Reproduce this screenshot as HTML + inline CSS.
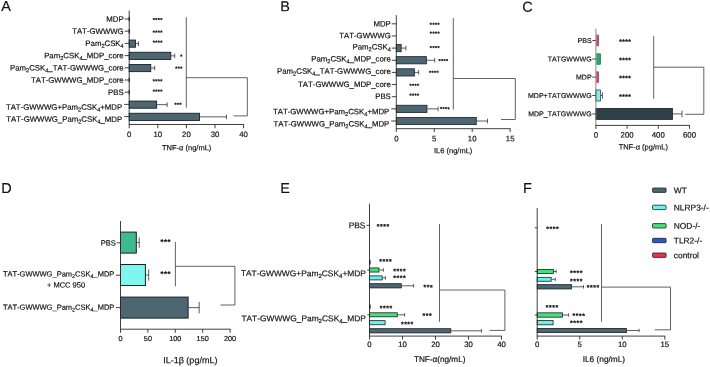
<!DOCTYPE html>
<html><head><meta charset="utf-8"><title>Figure</title>
<style>
html,body{margin:0;padding:0;background:#fff;}
body{width:710px;height:367px;overflow:hidden;}
svg{display:block;font-kerning:none;font-family:"Liberation Sans",sans-serif;}
</style></head><body>
<svg width="710" height="367" viewBox="0 0 710 367">
<rect x="0" y="0" width="710" height="367" fill="#ffffff"/>
<text x="1.20" y="11.00" font-size="14.4" text-anchor="start" font-weight="normal" fill="#111"  transform="rotate(0.03 1.20 11.00)" stroke="#111" stroke-width="0.18">A</text>
<text x="280.30" y="11.30" font-size="14.4" text-anchor="start" font-weight="normal" fill="#111"  transform="rotate(0.03 280.30 11.30)" stroke="#111" stroke-width="0.18">B</text>
<text x="522.30" y="11.70" font-size="14.4" text-anchor="start" font-weight="normal" fill="#111"  transform="rotate(0.03 522.30 11.70)" stroke="#111" stroke-width="0.18">C</text>
<text x="1.30" y="192.90" font-size="14.4" text-anchor="start" font-weight="normal" fill="#111"  transform="rotate(0.03 1.30 192.90)" stroke="#111" stroke-width="0.18">D</text>
<text x="280.30" y="192.90" font-size="14.4" text-anchor="start" font-weight="normal" fill="#111"  transform="rotate(0.03 280.30 192.90)" stroke="#111" stroke-width="0.18">E</text>
<text x="523.00" y="192.90" font-size="14.4" text-anchor="start" font-weight="normal" fill="#111"  transform="rotate(0.03 523.00 192.90)" stroke="#111" stroke-width="0.18">F</text>
<text x="123.70" y="21.70" font-size="7.8" text-anchor="end" font-weight="normal" fill="#111111"  transform="rotate(0.03 123.70 21.70)" stroke="#111111" stroke-width="0.18">MDP</text>
<line x1="124.70" y1="19.00" x2="129.20" y2="19.00" stroke="#2b2b2b" stroke-width="0.9"/>
<line x1="129.30" y1="16.70" x2="129.30" y2="21.30" stroke="#1a1a1a" stroke-width="1.2"/>
<text x="157.71" y="21.78" font-size="5.37" text-anchor="middle" font-weight="bold" fill="#111" letter-spacing="0.43" stroke="#111" stroke-width="0.25" transform="rotate(0.03 157.71 21.78)">****</text>
<text x="123.70" y="33.90" font-size="7.8" text-anchor="end" font-weight="normal" fill="#111111"  transform="rotate(0.03 123.70 33.90)" stroke="#111111" stroke-width="0.18">TAT-GWWWG</text>
<line x1="124.70" y1="31.20" x2="129.20" y2="31.20" stroke="#2b2b2b" stroke-width="0.9"/>
<line x1="129.30" y1="28.90" x2="129.30" y2="33.50" stroke="#1a1a1a" stroke-width="1.2"/>
<text x="157.71" y="34.18" font-size="5.37" text-anchor="middle" font-weight="bold" fill="#111" letter-spacing="0.43" stroke="#111" stroke-width="0.25" transform="rotate(0.03 157.71 34.18)">****</text>
<text x="123.70" y="46.10" font-size="7.8" text-anchor="end" font-weight="normal" fill="#111111"  transform="rotate(0.03 123.70 46.10)" stroke="#111111" stroke-width="0.18">Pam<tspan font-size="5.62" dy="1.72">2</tspan><tspan dy="-1.72">CSK<tspan font-size="5.62" dy="1.72">4</tspan><tspan dy="-1.72"></tspan></tspan></text>
<line x1="124.70" y1="43.40" x2="129.20" y2="43.40" stroke="#2b2b2b" stroke-width="0.9"/>
<line x1="135.80" y1="43.65" x2="138.50" y2="43.65" stroke="#333" stroke-width="0.8"/>
<line x1="138.50" y1="41.35" x2="138.50" y2="45.95" stroke="#333" stroke-width="0.8"/>
<rect x="129.20" y="40.07" width="6.24" height="7.16" fill="#4d6671" stroke="#172025" stroke-width="0.9"/>
<text x="157.71" y="44.28" font-size="5.37" text-anchor="middle" font-weight="bold" fill="#111" letter-spacing="0.43" stroke="#111" stroke-width="0.25" transform="rotate(0.03 157.71 44.28)">****</text>
<text x="123.70" y="58.30" font-size="7.8" text-anchor="end" font-weight="normal" fill="#111111"  transform="rotate(0.03 123.70 58.30)" stroke="#111111" stroke-width="0.18">Pam<tspan font-size="5.62" dy="1.72">2</tspan><tspan dy="-1.72">CSK<tspan font-size="5.62" dy="1.72">4</tspan><tspan dy="-1.72">_MDP_core</tspan></tspan></text>
<line x1="124.70" y1="55.60" x2="129.20" y2="55.60" stroke="#2b2b2b" stroke-width="0.9"/>
<line x1="171.10" y1="55.85" x2="174.70" y2="55.85" stroke="#333" stroke-width="0.8"/>
<line x1="174.70" y1="53.55" x2="174.70" y2="58.15" stroke="#333" stroke-width="0.8"/>
<rect x="129.20" y="52.27" width="41.54" height="7.16" fill="#4d6671" stroke="#172025" stroke-width="0.9"/>
<text x="181.61" y="58.18" font-size="5.37" text-anchor="middle" font-weight="bold" fill="#111" letter-spacing="0.43" stroke="#111" stroke-width="0.25" transform="rotate(0.03 181.61 58.18)">*</text>
<text x="123.70" y="70.50" font-size="7.8" text-anchor="end" font-weight="normal" fill="#111111"  transform="rotate(0.03 123.70 70.50)" stroke="#111111" stroke-width="0.18">Pam<tspan font-size="5.62" dy="1.72">2</tspan><tspan dy="-1.72">CSK<tspan font-size="5.62" dy="1.72">4</tspan><tspan dy="-1.72">_TAT-GWWWG_core</tspan></tspan></text>
<line x1="124.70" y1="67.80" x2="129.20" y2="67.80" stroke="#2b2b2b" stroke-width="0.9"/>
<line x1="151.10" y1="68.05" x2="154.70" y2="68.05" stroke="#333" stroke-width="0.8"/>
<line x1="154.70" y1="65.75" x2="154.70" y2="70.35" stroke="#333" stroke-width="0.8"/>
<rect x="129.20" y="64.47" width="21.54" height="7.16" fill="#4d6671" stroke="#172025" stroke-width="0.9"/>
<text x="178.91" y="70.28" font-size="5.37" text-anchor="middle" font-weight="bold" fill="#111" letter-spacing="0.43" stroke="#111" stroke-width="0.25" transform="rotate(0.03 178.91 70.28)">***</text>
<text x="123.70" y="82.70" font-size="7.8" text-anchor="end" font-weight="normal" fill="#111111"  transform="rotate(0.03 123.70 82.70)" stroke="#111111" stroke-width="0.18">TAT-GWWWG_MDP_core</text>
<line x1="124.70" y1="80.00" x2="129.20" y2="80.00" stroke="#2b2b2b" stroke-width="0.9"/>
<line x1="129.30" y1="77.70" x2="129.30" y2="82.30" stroke="#1a1a1a" stroke-width="1.2"/>
<text x="157.71" y="83.08" font-size="5.37" text-anchor="middle" font-weight="bold" fill="#111" letter-spacing="0.43" stroke="#111" stroke-width="0.25" transform="rotate(0.03 157.71 83.08)">****</text>
<text x="123.70" y="94.90" font-size="7.8" text-anchor="end" font-weight="normal" fill="#111111"  transform="rotate(0.03 123.70 94.90)" stroke="#111111" stroke-width="0.18">PBS</text>
<line x1="124.70" y1="92.20" x2="129.20" y2="92.20" stroke="#2b2b2b" stroke-width="0.9"/>
<line x1="129.30" y1="89.90" x2="129.30" y2="94.50" stroke="#1a1a1a" stroke-width="1.2"/>
<text x="157.71" y="93.18" font-size="5.37" text-anchor="middle" font-weight="bold" fill="#111" letter-spacing="0.43" stroke="#111" stroke-width="0.25" transform="rotate(0.03 157.71 93.18)">****</text>
<text x="122.20" y="109.70" font-size="7.8" text-anchor="end" font-weight="normal" fill="#111111"  transform="rotate(0.03 122.20 109.70)" stroke="#111111" stroke-width="0.18">TAT-GWWWG+Pam<tspan font-size="5.62" dy="1.72">2</tspan><tspan dy="-1.72">CSK<tspan font-size="5.62" dy="1.72">4</tspan><tspan dy="-1.72">+MDP</tspan></tspan></text>
<line x1="124.20" y1="104.40" x2="129.20" y2="104.40" stroke="#2b2b2b" stroke-width="0.9"/>
<line x1="157.00" y1="104.65" x2="167.10" y2="104.65" stroke="#333" stroke-width="0.8"/>
<line x1="167.10" y1="102.35" x2="167.10" y2="106.95" stroke="#333" stroke-width="0.8"/>
<rect x="129.20" y="101.07" width="27.44" height="7.16" fill="#4d6671" stroke="#172025" stroke-width="0.9"/>
<text x="178.31" y="106.48" font-size="5.37" text-anchor="middle" font-weight="bold" fill="#111" letter-spacing="0.43" stroke="#111" stroke-width="0.25" transform="rotate(0.03 178.31 106.48)">***</text>
<text x="122.20" y="121.90" font-size="7.8" text-anchor="end" font-weight="normal" fill="#111111"  transform="rotate(0.03 122.20 121.90)" stroke="#111111" stroke-width="0.18">TAT-GWWWG_Pam<tspan font-size="5.62" dy="1.72">2</tspan><tspan dy="-1.72">CSK<tspan font-size="5.62" dy="1.72">4</tspan><tspan dy="-1.72">_MDP</tspan></tspan></text>
<line x1="124.20" y1="116.60" x2="129.20" y2="116.60" stroke="#2b2b2b" stroke-width="0.9"/>
<line x1="199.90" y1="116.85" x2="226.40" y2="116.85" stroke="#333" stroke-width="0.8"/>
<line x1="226.40" y1="114.55" x2="226.40" y2="119.15" stroke="#333" stroke-width="0.8"/>
<rect x="129.20" y="113.27" width="70.34" height="7.16" fill="#4d6671" stroke="#172025" stroke-width="0.9"/>
<line x1="129.20" y1="10.50" x2="129.20" y2="124.50" stroke="#2b2b2b" stroke-width="0.9"/>
<line x1="128.80" y1="124.50" x2="243.90" y2="124.50" stroke="#2b2b2b" stroke-width="0.9"/>
<line x1="129.20" y1="124.50" x2="129.20" y2="128.20" stroke="#2b2b2b" stroke-width="0.9"/>
<text x="129.20" y="137.00" font-size="7.8" text-anchor="middle" font-weight="normal" fill="#111111"  transform="rotate(0.03 129.20 137.00)" stroke="#111111" stroke-width="0.18">0</text>
<line x1="157.80" y1="124.50" x2="157.80" y2="128.20" stroke="#2b2b2b" stroke-width="0.9"/>
<text x="157.80" y="137.00" font-size="7.8" text-anchor="middle" font-weight="normal" fill="#111111"  transform="rotate(0.03 157.80 137.00)" stroke="#111111" stroke-width="0.18">10</text>
<line x1="186.40" y1="124.50" x2="186.40" y2="128.20" stroke="#2b2b2b" stroke-width="0.9"/>
<text x="186.40" y="137.00" font-size="7.8" text-anchor="middle" font-weight="normal" fill="#111111"  transform="rotate(0.03 186.40 137.00)" stroke="#111111" stroke-width="0.18">20</text>
<line x1="215.00" y1="124.50" x2="215.00" y2="128.20" stroke="#2b2b2b" stroke-width="0.9"/>
<text x="215.00" y="137.00" font-size="7.8" text-anchor="middle" font-weight="normal" fill="#111111"  transform="rotate(0.03 215.00 137.00)" stroke="#111111" stroke-width="0.18">30</text>
<line x1="243.60" y1="124.50" x2="243.60" y2="128.20" stroke="#2b2b2b" stroke-width="0.9"/>
<text x="243.60" y="137.00" font-size="7.8" text-anchor="middle" font-weight="normal" fill="#111111"  transform="rotate(0.03 243.60 137.00)" stroke="#111111" stroke-width="0.18">40</text>
<text x="186.70" y="150.20" font-size="7.5" text-anchor="middle" font-weight="normal" fill="#111111"  transform="rotate(0.03 186.70 150.20)" stroke="#111111" stroke-width="0.18">TNF-α (ng/mL)</text>
<line x1="186.30" y1="17.20" x2="186.30" y2="107.70" stroke="#3a3a3a" stroke-width="0.8"/>
<polyline points="186.30,77.70 247.30,77.70 247.30,115.90 233.60,115.90" fill="none" stroke="#3a3a3a" stroke-width="0.8"/>
<text x="390.80" y="26.50" font-size="7.8" text-anchor="end" font-weight="normal" fill="#111111"  transform="rotate(0.03 390.80 26.50)" stroke="#111111" stroke-width="0.18">MDP</text>
<line x1="391.80" y1="23.80" x2="396.30" y2="23.80" stroke="#2b2b2b" stroke-width="0.9"/>
<text x="434.91" y="26.48" font-size="5.37" text-anchor="middle" font-weight="bold" fill="#111" letter-spacing="0.43" stroke="#111" stroke-width="0.25" transform="rotate(0.03 434.91 26.48)">****</text>
<text x="390.80" y="38.30" font-size="7.8" text-anchor="end" font-weight="normal" fill="#111111"  transform="rotate(0.03 390.80 38.30)" stroke="#111111" stroke-width="0.18">TAT-GWWWG</text>
<line x1="391.80" y1="35.95" x2="396.30" y2="35.95" stroke="#2b2b2b" stroke-width="0.9"/>
<text x="434.91" y="35.28" font-size="5.37" text-anchor="middle" font-weight="bold" fill="#111" letter-spacing="0.43" stroke="#111" stroke-width="0.25" transform="rotate(0.03 434.91 35.28)">****</text>
<text x="390.80" y="49.60" font-size="7.8" text-anchor="end" font-weight="normal" fill="#111111"  transform="rotate(0.03 390.80 49.60)" stroke="#111111" stroke-width="0.18">Pam<tspan font-size="5.62" dy="1.72">2</tspan><tspan dy="-1.72">CSK<tspan font-size="5.62" dy="1.72">4</tspan><tspan dy="-1.72"></tspan></tspan></text>
<line x1="391.80" y1="48.10" x2="396.30" y2="48.10" stroke="#2b2b2b" stroke-width="0.9"/>
<line x1="401.50" y1="48.10" x2="405.90" y2="48.10" stroke="#333" stroke-width="0.8"/>
<line x1="405.90" y1="45.80" x2="405.90" y2="50.40" stroke="#333" stroke-width="0.8"/>
<rect x="396.30" y="44.49" width="4.88" height="7.22" fill="#4d6671" stroke="#172025" stroke-width="0.8"/>
<text x="434.91" y="49.68" font-size="5.37" text-anchor="middle" font-weight="bold" fill="#111" letter-spacing="0.43" stroke="#111" stroke-width="0.25" transform="rotate(0.03 434.91 49.68)">****</text>
<text x="390.80" y="61.60" font-size="7.8" text-anchor="end" font-weight="normal" fill="#111111"  transform="rotate(0.03 390.80 61.60)" stroke="#111111" stroke-width="0.18">Pam<tspan font-size="5.62" dy="1.72">2</tspan><tspan dy="-1.72">CSK<tspan font-size="5.62" dy="1.72">4</tspan><tspan dy="-1.72">_MDP_core</tspan></tspan></text>
<line x1="391.80" y1="60.25" x2="396.30" y2="60.25" stroke="#2b2b2b" stroke-width="0.9"/>
<line x1="426.70" y1="60.25" x2="434.70" y2="60.25" stroke="#333" stroke-width="0.8"/>
<line x1="434.70" y1="57.95" x2="434.70" y2="62.55" stroke="#333" stroke-width="0.8"/>
<rect x="396.30" y="56.64" width="30.08" height="7.22" fill="#4d6671" stroke="#172025" stroke-width="0.8"/>
<text x="443.51" y="62.68" font-size="5.37" text-anchor="middle" font-weight="bold" fill="#111" letter-spacing="0.43" stroke="#111" stroke-width="0.25" transform="rotate(0.03 443.51 62.68)">****</text>
<text x="390.80" y="73.90" font-size="7.8" text-anchor="end" font-weight="normal" fill="#111111"  transform="rotate(0.03 390.80 73.90)" stroke="#111111" stroke-width="0.18">Pam<tspan font-size="5.62" dy="1.72">2</tspan><tspan dy="-1.72">CSK<tspan font-size="5.62" dy="1.72">4</tspan><tspan dy="-1.72">_TAT-GWWWG_core</tspan></tspan></text>
<line x1="391.80" y1="72.40" x2="396.30" y2="72.40" stroke="#2b2b2b" stroke-width="0.9"/>
<line x1="414.70" y1="72.40" x2="418.70" y2="72.40" stroke="#333" stroke-width="0.8"/>
<line x1="418.70" y1="70.10" x2="418.70" y2="74.70" stroke="#333" stroke-width="0.8"/>
<rect x="396.30" y="68.79" width="18.08" height="7.22" fill="#4d6671" stroke="#172025" stroke-width="0.8"/>
<text x="434.11" y="74.48" font-size="5.37" text-anchor="middle" font-weight="bold" fill="#111" letter-spacing="0.43" stroke="#111" stroke-width="0.25" transform="rotate(0.03 434.11 74.48)">****</text>
<text x="390.80" y="87.00" font-size="7.8" text-anchor="end" font-weight="normal" fill="#111111"  transform="rotate(0.03 390.80 87.00)" stroke="#111111" stroke-width="0.18">TAT-GWWWG_MDP_core</text>
<line x1="391.80" y1="84.55" x2="396.30" y2="84.55" stroke="#2b2b2b" stroke-width="0.9"/>
<text x="414.51" y="87.48" font-size="5.37" text-anchor="middle" font-weight="bold" fill="#111" letter-spacing="0.43" stroke="#111" stroke-width="0.25" transform="rotate(0.03 414.51 87.48)">****</text>
<text x="390.80" y="98.90" font-size="7.8" text-anchor="end" font-weight="normal" fill="#111111"  transform="rotate(0.03 390.80 98.90)" stroke="#111111" stroke-width="0.18">PBS</text>
<line x1="391.80" y1="96.70" x2="396.30" y2="96.70" stroke="#2b2b2b" stroke-width="0.9"/>
<text x="414.51" y="97.18" font-size="5.37" text-anchor="middle" font-weight="bold" fill="#111" letter-spacing="0.43" stroke="#111" stroke-width="0.25" transform="rotate(0.03 414.51 97.18)">****</text>
<text x="389.30" y="114.20" font-size="7.8" text-anchor="end" font-weight="normal" fill="#111111"  transform="rotate(0.03 389.30 114.20)" stroke="#111111" stroke-width="0.18">TAT-GWWWG+Pam<tspan font-size="5.62" dy="1.72">2</tspan><tspan dy="-1.72">CSK<tspan font-size="5.62" dy="1.72">4</tspan><tspan dy="-1.72">+MDP</tspan></tspan></text>
<line x1="391.30" y1="108.85" x2="396.30" y2="108.85" stroke="#2b2b2b" stroke-width="0.9"/>
<line x1="427.30" y1="108.85" x2="438.10" y2="108.85" stroke="#333" stroke-width="0.8"/>
<line x1="438.10" y1="106.55" x2="438.10" y2="111.15" stroke="#333" stroke-width="0.8"/>
<rect x="396.30" y="105.24" width="30.68" height="7.22" fill="#4d6671" stroke="#172025" stroke-width="0.8"/>
<text x="445.01" y="110.88" font-size="5.37" text-anchor="middle" font-weight="bold" fill="#111" letter-spacing="0.43" stroke="#111" stroke-width="0.25" transform="rotate(0.03 445.01 110.88)">****</text>
<text x="389.30" y="126.60" font-size="7.8" text-anchor="end" font-weight="normal" fill="#111111"  transform="rotate(0.03 389.30 126.60)" stroke="#111111" stroke-width="0.18">TAT-GWWWG_Pam<tspan font-size="5.62" dy="1.72">2</tspan><tspan dy="-1.72">CSK<tspan font-size="5.62" dy="1.72">4</tspan><tspan dy="-1.72">_MDP</tspan></tspan></text>
<line x1="391.30" y1="121.00" x2="396.30" y2="121.00" stroke="#2b2b2b" stroke-width="0.9"/>
<line x1="476.60" y1="121.00" x2="487.50" y2="121.00" stroke="#333" stroke-width="0.8"/>
<line x1="487.50" y1="118.70" x2="487.50" y2="123.30" stroke="#333" stroke-width="0.8"/>
<rect x="396.30" y="117.39" width="79.98" height="7.22" fill="#4d6671" stroke="#172025" stroke-width="0.8"/>
<line x1="396.30" y1="15.20" x2="396.30" y2="128.70" stroke="#2b2b2b" stroke-width="0.9"/>
<line x1="395.90" y1="128.70" x2="510.60" y2="128.70" stroke="#2b2b2b" stroke-width="0.9"/>
<line x1="396.30" y1="128.70" x2="396.30" y2="132.00" stroke="#2b2b2b" stroke-width="0.9"/>
<text x="396.30" y="141.30" font-size="7.8" text-anchor="middle" font-weight="normal" fill="#111111"  transform="rotate(0.03 396.30 141.30)" stroke="#111111" stroke-width="0.18">0</text>
<line x1="434.25" y1="128.70" x2="434.25" y2="132.00" stroke="#2b2b2b" stroke-width="0.9"/>
<text x="434.25" y="141.30" font-size="7.8" text-anchor="middle" font-weight="normal" fill="#111111"  transform="rotate(0.03 434.25 141.30)" stroke="#111111" stroke-width="0.18">5</text>
<line x1="472.20" y1="128.70" x2="472.20" y2="132.00" stroke="#2b2b2b" stroke-width="0.9"/>
<text x="472.20" y="141.30" font-size="7.8" text-anchor="middle" font-weight="normal" fill="#111111"  transform="rotate(0.03 472.20 141.30)" stroke="#111111" stroke-width="0.18">10</text>
<line x1="510.15" y1="128.70" x2="510.15" y2="132.00" stroke="#2b2b2b" stroke-width="0.9"/>
<text x="510.15" y="141.30" font-size="7.8" text-anchor="middle" font-weight="normal" fill="#111111"  transform="rotate(0.03 510.15 141.30)" stroke="#111111" stroke-width="0.18">15</text>
<text x="453.20" y="153.20" font-size="7.5" text-anchor="middle" font-weight="normal" fill="#111111"  transform="rotate(0.03 453.20 153.20)" stroke="#111111" stroke-width="0.18">IL6 (ng/mL)</text>
<line x1="453.30" y1="18.10" x2="453.30" y2="109.60" stroke="#3a3a3a" stroke-width="0.8"/>
<polyline points="453.30,78.50 515.30,78.50 515.30,119.50 501.00,119.50" fill="none" stroke="#3a3a3a" stroke-width="0.8"/>
<text x="591.60" y="42.95" font-size="7.0" text-anchor="end" font-weight="normal" fill="#111111"  transform="rotate(0.03 591.60 42.95)" stroke="#111111" stroke-width="0.18">PBS</text>
<line x1="592.30" y1="40.50" x2="595.90" y2="40.50" stroke="#2b2b2b" stroke-width="0.9"/>
<rect x="596.30" y="34.65" width="2.20" height="11.7" fill="#ff3056"/>
<line x1="598.55" y1="35.30" x2="598.55" y2="45.70" stroke="#1d2460" stroke-width="0.55"/>
<text x="625.26" y="43.76" font-size="6.51" text-anchor="middle" font-weight="bold" fill="#111" letter-spacing="0.52" stroke="#111" stroke-width="0.25" transform="rotate(0.03 625.26 43.76)">****</text>
<text x="591.60" y="61.45" font-size="7.0" text-anchor="end" font-weight="normal" fill="#111111"  transform="rotate(0.03 591.60 61.45)" stroke="#111111" stroke-width="0.18">TATGWWWG</text>
<line x1="592.30" y1="59.00" x2="595.90" y2="59.00" stroke="#2b2b2b" stroke-width="0.9"/>
<rect x="596.30" y="53.15" width="4.20" height="11.7" fill="#22ab64"/>
<line x1="600.55" y1="53.80" x2="600.55" y2="64.20" stroke="#1d2460" stroke-width="0.55"/>
<text x="625.26" y="62.26" font-size="6.51" text-anchor="middle" font-weight="bold" fill="#111" letter-spacing="0.52" stroke="#111" stroke-width="0.25" transform="rotate(0.03 625.26 62.26)">****</text>
<text x="591.60" y="79.55" font-size="7.0" text-anchor="end" font-weight="normal" fill="#111111"  transform="rotate(0.03 591.60 79.55)" stroke="#111111" stroke-width="0.18">MDP</text>
<line x1="592.30" y1="77.10" x2="595.90" y2="77.10" stroke="#2b2b2b" stroke-width="0.9"/>
<rect x="596.30" y="71.25" width="2.20" height="11.7" fill="#ff3056"/>
<line x1="598.55" y1="71.90" x2="598.55" y2="82.30" stroke="#1d2460" stroke-width="0.55"/>
<text x="625.26" y="80.36" font-size="6.51" text-anchor="middle" font-weight="bold" fill="#111" letter-spacing="0.52" stroke="#111" stroke-width="0.25" transform="rotate(0.03 625.26 80.36)">****</text>
<text x="591.60" y="97.95" font-size="7.0" text-anchor="end" font-weight="normal" fill="#111111"  transform="rotate(0.03 591.60 97.95)" stroke="#111111" stroke-width="0.18">MDP+TATGWWWG</text>
<line x1="592.30" y1="95.50" x2="595.90" y2="95.50" stroke="#2b2b2b" stroke-width="0.9"/>
<line x1="600.90" y1="95.50" x2="602.40" y2="95.50" stroke="#333" stroke-width="0.8"/>
<line x1="602.40" y1="92.15" x2="602.40" y2="98.85" stroke="#333" stroke-width="0.8"/>
<rect x="595.90" y="89.99" width="4.68" height="11.02" fill="#7df3ec" stroke="#2b4a4a" stroke-width="0.8"/>
<text x="625.26" y="98.76" font-size="6.51" text-anchor="middle" font-weight="bold" fill="#111" letter-spacing="0.52" stroke="#111" stroke-width="0.25" transform="rotate(0.03 625.26 98.76)">****</text>
<text x="591.60" y="116.35" font-size="7.0" text-anchor="end" font-weight="normal" fill="#111111"  transform="rotate(0.03 591.60 116.35)" stroke="#111111" stroke-width="0.18">MDP_TATGWWWG</text>
<line x1="592.30" y1="113.90" x2="595.90" y2="113.90" stroke="#2b2b2b" stroke-width="0.9"/>
<line x1="672.80" y1="113.90" x2="682.00" y2="113.90" stroke="#333" stroke-width="0.8"/>
<line x1="682.00" y1="110.55" x2="682.00" y2="117.25" stroke="#333" stroke-width="0.8"/>
<rect x="595.90" y="108.39" width="76.58" height="11.02" fill="#2f3f48" stroke="#1a2328" stroke-width="0.8"/>
<line x1="595.90" y1="28.60" x2="595.90" y2="125.40" stroke="#777" stroke-width="0.9"/>
<line x1="595.50" y1="125.40" x2="690.00" y2="125.40" stroke="#2b2b2b" stroke-width="0.9"/>
<line x1="595.90" y1="125.40" x2="595.90" y2="128.80" stroke="#2b2b2b" stroke-width="0.9"/>
<text x="595.90" y="137.40" font-size="7.8" text-anchor="middle" font-weight="normal" fill="#111111"  transform="rotate(0.03 595.90 137.40)" stroke="#111111" stroke-width="0.18">0</text>
<line x1="627.10" y1="125.40" x2="627.10" y2="128.80" stroke="#2b2b2b" stroke-width="0.9"/>
<text x="627.10" y="137.40" font-size="7.8" text-anchor="middle" font-weight="normal" fill="#111111"  transform="rotate(0.03 627.10 137.40)" stroke="#111111" stroke-width="0.18">200</text>
<line x1="658.30" y1="125.40" x2="658.30" y2="128.80" stroke="#2b2b2b" stroke-width="0.9"/>
<text x="658.30" y="137.40" font-size="7.8" text-anchor="middle" font-weight="normal" fill="#111111"  transform="rotate(0.03 658.30 137.40)" stroke="#111111" stroke-width="0.18">400</text>
<line x1="689.50" y1="125.40" x2="689.50" y2="128.80" stroke="#2b2b2b" stroke-width="0.9"/>
<text x="689.50" y="137.40" font-size="7.8" text-anchor="middle" font-weight="normal" fill="#111111"  transform="rotate(0.03 689.50 137.40)" stroke="#111111" stroke-width="0.18">600</text>
<text x="643.30" y="149.40" font-size="7.5" text-anchor="middle" font-weight="normal" fill="#111111"  transform="rotate(0.03 643.30 149.40)" stroke="#111111" stroke-width="0.18">TNF-α (pg/mL)</text>
<line x1="653.70" y1="36.20" x2="653.70" y2="98.70" stroke="#3a3a3a" stroke-width="0.8"/>
<polyline points="653.70,67.20 703.80,67.20 703.80,114.30 685.20,114.30" fill="none" stroke="#3a3a3a" stroke-width="0.8"/>
<text x="115.70" y="245.40" font-size="7.5" text-anchor="end" font-weight="normal" fill="#111111"  transform="rotate(0.03 115.70 245.40)" stroke="#111111" stroke-width="0.18">PBS</text>
<line x1="116.60" y1="242.80" x2="120.50" y2="242.80" stroke="#2b2b2b" stroke-width="0.9"/>
<text x="2.90" y="276.40" font-size="7.5" text-anchor="start" font-weight="normal" fill="#111111"  transform="rotate(0.03 2.90 276.40)" stroke="#111111" stroke-width="0.18">TAT-GWWWG_Pam<tspan font-size="5.40" dy="1.65">2</tspan><tspan dy="-1.65">CSK<tspan font-size="5.40" dy="1.65">4</tspan><tspan dy="-1.65">_MDP</tspan></tspan></text>
<text x="66.00" y="287.40" font-size="7.5" text-anchor="middle" font-weight="normal" fill="#111111"  transform="rotate(0.03 66.00 287.40)" stroke="#111111" stroke-width="0.18">+ MCC 950</text>
<line x1="115.80" y1="275.20" x2="120.50" y2="275.20" stroke="#2b2b2b" stroke-width="0.9"/>
<text x="2.90" y="309.80" font-size="7.5" text-anchor="start" font-weight="normal" fill="#111111"  transform="rotate(0.03 2.90 309.80)" stroke="#111111" stroke-width="0.18">TAT-GWWWG_Pam<tspan font-size="5.40" dy="1.65">2</tspan><tspan dy="-1.65">CSK<tspan font-size="5.40" dy="1.65">4</tspan><tspan dy="-1.65">_MDP</tspan></tspan></text>
<line x1="115.80" y1="307.60" x2="120.50" y2="307.60" stroke="#2b2b2b" stroke-width="0.9"/>
<line x1="136.70" y1="242.60" x2="139.20" y2="242.60" stroke="#333" stroke-width="0.8"/>
<line x1="139.20" y1="237.40" x2="139.20" y2="247.80" stroke="#333" stroke-width="0.8"/>
<rect x="120.50" y="232.10" width="15.80" height="21.00" fill="#3dbb8e" stroke="#172025" stroke-width="1.0"/>
<line x1="145.80" y1="275.00" x2="148.70" y2="275.00" stroke="#333" stroke-width="0.8"/>
<line x1="148.70" y1="269.30" x2="148.70" y2="280.70" stroke="#333" stroke-width="0.8"/>
<rect x="120.50" y="264.50" width="24.90" height="21.00" fill="#7ff6ee" stroke="#172025" stroke-width="1.0"/>
<line x1="188.50" y1="307.60" x2="199.20" y2="307.60" stroke="#333" stroke-width="0.8"/>
<line x1="199.20" y1="301.90" x2="199.20" y2="313.30" stroke="#333" stroke-width="0.8"/>
<rect x="120.50" y="297.10" width="67.60" height="21.00" fill="#4d6671" stroke="#172025" stroke-width="1.0"/>
<line x1="120.50" y1="221.00" x2="120.50" y2="329.20" stroke="#2b2b2b" stroke-width="0.9"/>
<line x1="120.10" y1="329.20" x2="230.50" y2="329.20" stroke="#2b2b2b" stroke-width="0.9"/>
<line x1="120.50" y1="329.20" x2="120.50" y2="332.80" stroke="#2b2b2b" stroke-width="0.9"/>
<text x="120.50" y="341.10" font-size="7.3" text-anchor="middle" font-weight="normal" fill="#111111"  transform="rotate(0.03 120.50 341.10)" stroke="#111111" stroke-width="0.18">0</text>
<line x1="147.90" y1="329.20" x2="147.90" y2="332.80" stroke="#2b2b2b" stroke-width="0.9"/>
<text x="147.90" y="341.10" font-size="7.3" text-anchor="middle" font-weight="normal" fill="#111111"  transform="rotate(0.03 147.90 341.10)" stroke="#111111" stroke-width="0.18">50</text>
<line x1="175.30" y1="329.20" x2="175.30" y2="332.80" stroke="#2b2b2b" stroke-width="0.9"/>
<text x="175.30" y="341.10" font-size="7.3" text-anchor="middle" font-weight="normal" fill="#111111"  transform="rotate(0.03 175.30 341.10)" stroke="#111111" stroke-width="0.18">100</text>
<line x1="202.70" y1="329.20" x2="202.70" y2="332.80" stroke="#2b2b2b" stroke-width="0.9"/>
<text x="202.70" y="341.10" font-size="7.3" text-anchor="middle" font-weight="normal" fill="#111111"  transform="rotate(0.03 202.70 341.10)" stroke="#111111" stroke-width="0.18">150</text>
<line x1="230.10" y1="329.20" x2="230.10" y2="332.80" stroke="#2b2b2b" stroke-width="0.9"/>
<text x="230.10" y="341.10" font-size="7.3" text-anchor="middle" font-weight="normal" fill="#111111"  transform="rotate(0.03 230.10 341.10)" stroke="#111111" stroke-width="0.18">200</text>
<text x="190.30" y="363.30" font-size="9" text-anchor="middle" font-weight="normal" fill="#111111"  transform="rotate(0.03 190.30 363.30)" stroke="#111111" stroke-width="0.18">IL-1β (pg/mL)</text>
<text x="165.80" y="244.48" font-size="7.57" text-anchor="middle" font-weight="bold" fill="#111" letter-spacing="0.60" stroke="#111" stroke-width="0.25" transform="rotate(0.03 165.80 244.48)">***</text>
<text x="165.80" y="276.58" font-size="7.57" text-anchor="middle" font-weight="bold" fill="#111" letter-spacing="0.60" stroke="#111" stroke-width="0.25" transform="rotate(0.03 165.80 276.58)">***</text>
<line x1="175.40" y1="241.90" x2="175.40" y2="286.30" stroke="#3a3a3a" stroke-width="0.8"/>
<polyline points="175.40,266.30 234.90,266.30 234.90,305.00 220.60,305.00" fill="none" stroke="#3a3a3a" stroke-width="0.8"/>
<text x="365.40" y="228.20" font-size="8.4" text-anchor="end" font-weight="normal" fill="#111111"  transform="rotate(0.03 365.40 228.20)" stroke="#111111" stroke-width="0.18">PBS</text>
<line x1="366.50" y1="225.30" x2="369.50" y2="225.30" stroke="#2b2b2b" stroke-width="0.9"/>
<text x="365.90" y="276.20" font-size="8.4" text-anchor="end" font-weight="normal" fill="#111111"  transform="rotate(0.03 365.90 276.20)" stroke="#111111" stroke-width="0.18">TAT-GWWWG+Pam<tspan font-size="6.05" dy="1.85">2</tspan><tspan dy="-1.85">CSK<tspan font-size="6.05" dy="1.85">4</tspan><tspan dy="-1.85">+MDP</tspan></tspan></text>
<text x="365.90" y="321.30" font-size="8.4" text-anchor="end" font-weight="normal" fill="#111111"  transform="rotate(0.03 365.90 321.30)" stroke="#111111" stroke-width="0.18">TAT-GWWWG_Pam<tspan font-size="6.05" dy="1.85">2</tspan><tspan dy="-1.85">CSK<tspan font-size="6.05" dy="1.85">4</tspan><tspan dy="-1.85">_MDP</tspan></tspan></text>
<line x1="367.30" y1="270.00" x2="369.50" y2="270.00" stroke="#2b2b2b" stroke-width="0.9"/>
<line x1="367.30" y1="314.80" x2="369.50" y2="314.80" stroke="#2b2b2b" stroke-width="0.9"/>
<line x1="369.80" y1="260.20" x2="369.80" y2="264.60" stroke="#111" stroke-width="1.6"/>
<line x1="369.80" y1="304.40" x2="369.80" y2="308.80" stroke="#111" stroke-width="1.6"/>
<line x1="379.30" y1="270.00" x2="383.40" y2="270.00" stroke="#333" stroke-width="0.8"/>
<line x1="383.40" y1="268.30" x2="383.40" y2="271.70" stroke="#333" stroke-width="0.8"/>
<rect x="369.50" y="267.94" width="9.48" height="4.12" fill="#48e07c" stroke="#172025" stroke-width="0.8"/>
<line x1="382.50" y1="277.90" x2="385.40" y2="277.90" stroke="#333" stroke-width="0.8"/>
<line x1="385.40" y1="276.20" x2="385.40" y2="279.60" stroke="#333" stroke-width="0.8"/>
<rect x="369.50" y="275.89" width="12.68" height="4.02" fill="#6ef0ea" stroke="#172025" stroke-width="0.8"/>
<line x1="401.60" y1="285.80" x2="413.60" y2="285.80" stroke="#333" stroke-width="0.8"/>
<line x1="413.60" y1="284.10" x2="413.60" y2="287.50" stroke="#333" stroke-width="0.8"/>
<rect x="369.50" y="283.69" width="31.78" height="4.22" fill="#4d6671" stroke="#172025" stroke-width="0.8"/>
<line x1="397.60" y1="314.80" x2="404.60" y2="314.80" stroke="#333" stroke-width="0.8"/>
<line x1="404.60" y1="313.10" x2="404.60" y2="316.50" stroke="#333" stroke-width="0.8"/>
<rect x="369.50" y="312.79" width="27.78" height="4.02" fill="#48e07c" stroke="#172025" stroke-width="0.8"/>
<rect x="369.50" y="320.64" width="15.58" height="4.12" fill="#6ef0ea" stroke="#172025" stroke-width="0.8"/>
<line x1="451.10" y1="330.80" x2="481.60" y2="330.80" stroke="#333" stroke-width="0.8"/>
<line x1="481.60" y1="329.10" x2="481.60" y2="332.50" stroke="#333" stroke-width="0.8"/>
<rect x="369.50" y="328.69" width="81.28" height="4.22" fill="#4d6671" stroke="#172025" stroke-width="0.8"/>
<text x="383.17" y="228.73" font-size="6.86" text-anchor="middle" font-weight="bold" fill="#111" letter-spacing="0.55" stroke="#111" stroke-width="0.25" transform="rotate(0.03 383.17 228.73)">****</text>
<text x="385.67" y="263.83" font-size="6.86" text-anchor="middle" font-weight="bold" fill="#111" letter-spacing="0.55" stroke="#111" stroke-width="0.25" transform="rotate(0.03 385.67 263.83)">****</text>
<text x="399.77" y="273.43" font-size="6.86" text-anchor="middle" font-weight="bold" fill="#111" letter-spacing="0.55" stroke="#111" stroke-width="0.25" transform="rotate(0.03 399.77 273.43)">****</text>
<text x="399.77" y="280.33" font-size="6.86" text-anchor="middle" font-weight="bold" fill="#111" letter-spacing="0.55" stroke="#111" stroke-width="0.25" transform="rotate(0.03 399.77 280.33)">****</text>
<text x="428.37" y="289.63" font-size="6.86" text-anchor="middle" font-weight="bold" fill="#111" letter-spacing="0.55" stroke="#111" stroke-width="0.25" transform="rotate(0.03 428.37 289.63)">***</text>
<text x="386.17" y="310.43" font-size="6.86" text-anchor="middle" font-weight="bold" fill="#111" letter-spacing="0.55" stroke="#111" stroke-width="0.25" transform="rotate(0.03 386.17 310.43)">****</text>
<text x="427.37" y="317.93" font-size="6.86" text-anchor="middle" font-weight="bold" fill="#111" letter-spacing="0.55" stroke="#111" stroke-width="0.25" transform="rotate(0.03 427.37 317.93)">***</text>
<text x="407.37" y="326.53" font-size="6.86" text-anchor="middle" font-weight="bold" fill="#111" letter-spacing="0.55" stroke="#111" stroke-width="0.25" transform="rotate(0.03 407.37 326.53)">****</text>
<line x1="369.50" y1="203.70" x2="369.50" y2="336.10" stroke="#2b2b2b" stroke-width="0.9"/>
<line x1="369.10" y1="336.10" x2="501.90" y2="336.10" stroke="#2b2b2b" stroke-width="0.9"/>
<line x1="369.50" y1="336.10" x2="369.50" y2="339.60" stroke="#2b2b2b" stroke-width="0.9"/>
<text x="369.50" y="346.90" font-size="7.8" text-anchor="middle" font-weight="normal" fill="#111111"  transform="rotate(0.03 369.50 346.90)" stroke="#111111" stroke-width="0.18">0</text>
<line x1="402.50" y1="336.10" x2="402.50" y2="339.60" stroke="#2b2b2b" stroke-width="0.9"/>
<text x="402.50" y="346.90" font-size="7.8" text-anchor="middle" font-weight="normal" fill="#111111"  transform="rotate(0.03 402.50 346.90)" stroke="#111111" stroke-width="0.18">10</text>
<line x1="435.50" y1="336.10" x2="435.50" y2="339.60" stroke="#2b2b2b" stroke-width="0.9"/>
<text x="435.50" y="346.90" font-size="7.8" text-anchor="middle" font-weight="normal" fill="#111111"  transform="rotate(0.03 435.50 346.90)" stroke="#111111" stroke-width="0.18">20</text>
<line x1="468.50" y1="336.10" x2="468.50" y2="339.60" stroke="#2b2b2b" stroke-width="0.9"/>
<text x="468.50" y="346.90" font-size="7.8" text-anchor="middle" font-weight="normal" fill="#111111"  transform="rotate(0.03 468.50 346.90)" stroke="#111111" stroke-width="0.18">30</text>
<line x1="501.50" y1="336.10" x2="501.50" y2="339.60" stroke="#2b2b2b" stroke-width="0.9"/>
<text x="501.50" y="346.90" font-size="7.8" text-anchor="middle" font-weight="normal" fill="#111111"  transform="rotate(0.03 501.50 346.90)" stroke="#111111" stroke-width="0.18">40</text>
<text x="439.70" y="362.10" font-size="8.2" text-anchor="middle" font-weight="normal" fill="#111111"  transform="rotate(0.03 439.70 362.10)" stroke="#111111" stroke-width="0.18">TNF-α(ng/mL)</text>
<line x1="439.50" y1="223.90" x2="439.50" y2="321.80" stroke="#3a3a3a" stroke-width="0.8"/>
<polyline points="439.50,290.00 504.90,290.00 504.90,330.40 489.50,330.40" fill="none" stroke="#3a3a3a" stroke-width="0.8"/>
<line x1="534.90" y1="227.80" x2="537.20" y2="227.80" stroke="#2b2b2b" stroke-width="0.9"/>
<line x1="534.90" y1="271.50" x2="537.20" y2="271.50" stroke="#2b2b2b" stroke-width="0.9"/>
<line x1="534.90" y1="315.00" x2="537.20" y2="315.00" stroke="#2b2b2b" stroke-width="0.9"/>
<line x1="553.70" y1="271.50" x2="556.20" y2="271.50" stroke="#333" stroke-width="0.8"/>
<line x1="556.20" y1="269.80" x2="556.20" y2="273.20" stroke="#333" stroke-width="0.8"/>
<rect x="537.20" y="269.49" width="16.18" height="4.02" fill="#48e07c" stroke="#172025" stroke-width="0.8"/>
<line x1="551.50" y1="279.30" x2="555.30" y2="279.30" stroke="#333" stroke-width="0.8"/>
<line x1="555.30" y1="277.60" x2="555.30" y2="281.00" stroke="#333" stroke-width="0.8"/>
<rect x="537.20" y="277.34" width="13.98" height="3.92" fill="#6ef0ea" stroke="#172025" stroke-width="0.8"/>
<line x1="571.80" y1="286.80" x2="583.50" y2="286.80" stroke="#333" stroke-width="0.8"/>
<line x1="583.50" y1="285.10" x2="583.50" y2="288.50" stroke="#333" stroke-width="0.8"/>
<rect x="537.20" y="284.64" width="34.28" height="4.32" fill="#4d6671" stroke="#172025" stroke-width="0.8"/>
<line x1="562.90" y1="315.00" x2="568.60" y2="315.00" stroke="#333" stroke-width="0.8"/>
<line x1="568.60" y1="313.30" x2="568.60" y2="316.70" stroke="#333" stroke-width="0.8"/>
<rect x="537.20" y="312.84" width="25.38" height="4.32" fill="#48e07c" stroke="#172025" stroke-width="0.8"/>
<rect x="537.20" y="320.59" width="15.88" height="4.22" fill="#6ef0ea" stroke="#172025" stroke-width="0.8"/>
<line x1="626.70" y1="330.50" x2="639.10" y2="330.50" stroke="#333" stroke-width="0.8"/>
<line x1="639.10" y1="328.80" x2="639.10" y2="332.20" stroke="#333" stroke-width="0.8"/>
<rect x="537.20" y="328.39" width="89.18" height="4.22" fill="#4d6671" stroke="#172025" stroke-width="0.8"/>
<text x="552.67" y="231.23" font-size="6.86" text-anchor="middle" font-weight="bold" fill="#111" letter-spacing="0.55" stroke="#111" stroke-width="0.25" transform="rotate(0.03 552.67 231.23)">****</text>
<text x="576.47" y="275.23" font-size="6.86" text-anchor="middle" font-weight="bold" fill="#111" letter-spacing="0.55" stroke="#111" stroke-width="0.25" transform="rotate(0.03 576.47 275.23)">****</text>
<text x="576.47" y="283.43" font-size="6.86" text-anchor="middle" font-weight="bold" fill="#111" letter-spacing="0.55" stroke="#111" stroke-width="0.25" transform="rotate(0.03 576.47 283.43)">****</text>
<text x="593.27" y="289.73" font-size="6.86" text-anchor="middle" font-weight="bold" fill="#111" letter-spacing="0.55" stroke="#111" stroke-width="0.25" transform="rotate(0.03 593.27 289.73)">****</text>
<text x="552.27" y="309.83" font-size="6.86" text-anchor="middle" font-weight="bold" fill="#111" letter-spacing="0.55" stroke="#111" stroke-width="0.25" transform="rotate(0.03 552.27 309.83)">****</text>
<text x="578.97" y="318.13" font-size="6.86" text-anchor="middle" font-weight="bold" fill="#111" letter-spacing="0.55" stroke="#111" stroke-width="0.25" transform="rotate(0.03 578.97 318.13)">****</text>
<text x="576.47" y="325.23" font-size="6.86" text-anchor="middle" font-weight="bold" fill="#111" letter-spacing="0.55" stroke="#111" stroke-width="0.25" transform="rotate(0.03 576.47 325.23)">****</text>
<line x1="537.20" y1="208.10" x2="537.20" y2="336.10" stroke="#2b2b2b" stroke-width="0.9"/>
<line x1="536.80" y1="336.10" x2="665.20" y2="336.10" stroke="#2b2b2b" stroke-width="0.9"/>
<line x1="537.20" y1="336.10" x2="537.20" y2="339.60" stroke="#2b2b2b" stroke-width="0.9"/>
<text x="537.20" y="346.90" font-size="7.8" text-anchor="middle" font-weight="normal" fill="#111111"  transform="rotate(0.03 537.20 346.90)" stroke="#111111" stroke-width="0.18">0</text>
<line x1="579.75" y1="336.10" x2="579.75" y2="339.60" stroke="#2b2b2b" stroke-width="0.9"/>
<text x="579.75" y="346.90" font-size="7.8" text-anchor="middle" font-weight="normal" fill="#111111"  transform="rotate(0.03 579.75 346.90)" stroke="#111111" stroke-width="0.18">5</text>
<line x1="622.30" y1="336.10" x2="622.30" y2="339.60" stroke="#2b2b2b" stroke-width="0.9"/>
<text x="622.30" y="346.90" font-size="7.8" text-anchor="middle" font-weight="normal" fill="#111111"  transform="rotate(0.03 622.30 346.90)" stroke="#111111" stroke-width="0.18">10</text>
<line x1="664.85" y1="336.10" x2="664.85" y2="339.60" stroke="#2b2b2b" stroke-width="0.9"/>
<text x="664.85" y="346.90" font-size="7.8" text-anchor="middle" font-weight="normal" fill="#111111"  transform="rotate(0.03 664.85 346.90)" stroke="#111111" stroke-width="0.18">15</text>
<text x="603.90" y="362.10" font-size="8.3" text-anchor="middle" font-weight="normal" fill="#111111"  transform="rotate(0.03 603.90 362.10)" stroke="#111111" stroke-width="0.18">IL6 (ng/mL)</text>
<line x1="601.50" y1="223.90" x2="601.50" y2="321.80" stroke="#3a3a3a" stroke-width="0.8"/>
<polyline points="601.50,287.10 670.50,287.10 670.50,329.80 654.90,329.80" fill="none" stroke="#3a3a3a" stroke-width="0.8"/>
<rect x="652.5" y="188.00" width="13.6" height="4.4" rx="0.8" fill="#4d6671" stroke="#1c2428" stroke-width="0.8"/>
<text x="673.80" y="193.20" font-size="8.4" text-anchor="start" font-weight="normal" fill="#111111"  transform="rotate(0.03 673.80 193.20)" stroke="#111111" stroke-width="0.18">WT</text>
<rect x="652.5" y="205.20" width="13.6" height="4.4" rx="0.8" fill="#6ef0ea" stroke="#1c2428" stroke-width="0.8"/>
<text x="673.80" y="210.40" font-size="8.4" text-anchor="start" font-weight="normal" fill="#111111"  transform="rotate(0.03 673.80 210.40)" stroke="#111111" stroke-width="0.18">NLRP3-/-</text>
<rect x="652.5" y="223.60" width="13.6" height="4.4" rx="0.8" fill="#48e07c" stroke="#1c2428" stroke-width="0.8"/>
<text x="673.80" y="228.80" font-size="8.4" text-anchor="start" font-weight="normal" fill="#111111"  transform="rotate(0.03 673.80 228.80)" stroke="#111111" stroke-width="0.18">NOD-/-</text>
<rect x="652.5" y="238.30" width="13.6" height="4.4" rx="0.8" fill="#2f58c4" stroke="#1c2428" stroke-width="0.8"/>
<text x="673.80" y="243.50" font-size="8.4" text-anchor="start" font-weight="normal" fill="#111111"  transform="rotate(0.03 673.80 243.50)" stroke="#111111" stroke-width="0.18">TLR2-/-</text>
<rect x="652.5" y="253.00" width="13.6" height="4.4" rx="0.8" fill="#ee2f4f" stroke="#1c2428" stroke-width="0.8"/>
<text x="673.80" y="258.20" font-size="8.4" text-anchor="start" font-weight="normal" fill="#111111"  transform="rotate(0.03 673.80 258.20)" stroke="#111111" stroke-width="0.18">control</text>
</svg>
</body></html>
